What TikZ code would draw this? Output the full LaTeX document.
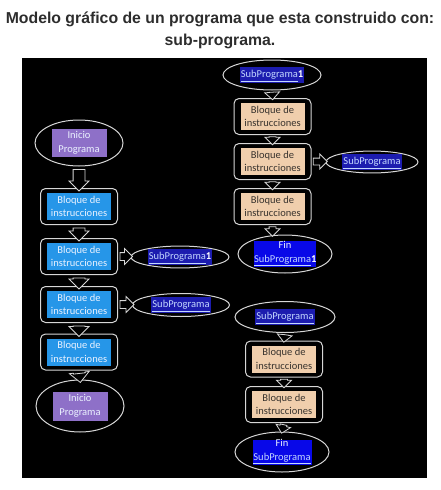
\documentclass[tikz,border=0pt]{standalone}
\usepackage{fontspec}
\setmainfont{Carlito}
\newfontfamily\titlefont{Liberation Sans}
\usetikzlibrary{shapes.geometric,shapes.arrows,calc}
\definecolor{linea}{RGB}{215,215,215}
\definecolor{azul}{RGB}{38,150,232}
\definecolor{morado}{RGB}{142,112,200}
\definecolor{crema}{RGB}{240,206,172}
\definecolor{azulfin}{RGB}{8,8,232}
\definecolor{resalte}{RGB}{28,28,175}
\definecolor{enlace}{RGB}{195,215,255}
\definecolor{claro}{RGB}{235,242,255}
\definecolor{oscuro}{RGB}{55,50,45}
\definecolor{tinta}{RGB}{45,45,45}
\setlength{\fboxsep}{0pt}
% caja de color con texto centrado: color, ancho, alto, texto
\newcommand{\rotulo}[4]{\colorbox{#1}{\parbox[c][#3][c]{#2}{\centering #4}}}
\newcommand{\instr}[2]{\rotulo{#1}{64pt}{27pt}{\color{#2}Bloque de\\instrucciones}}
\newcommand{\subprog}[1]{{\setlength{\fboxsep}{1pt}\colorbox{resalte}{\strut\color{enlace}\underline{SubPrograma}\textbf{\color{white}#1}}}}
\tikzset{encabezado/.style={font=\titlefont\bfseries\fontsize{15.8}{18}\selectfont, text=tinta}}
\begin{document}
\begin{tikzpicture}[x=1pt, y=-1pt,
    every node/.style={font=\fontsize{10.5}{13.5}\selectfont},
    bloque/.style={draw=linea, line width=1pt, fill=black, rounded corners=5pt, inner xsep=6.5pt, inner ysep=4.5pt},
    ovalo/.style={ellipse, draw=linea, line width=1pt, fill=black, inner sep=0pt},
    % ancho del cuerpo = #1, la punta sobresale 4pt por lado
    hueca/.style={single arrow, draw=linea, fill=black, line width=0.8pt, inner sep=0pt,
                  text height=#1, text depth=0pt, minimum width=0pt, single arrow head extend=4pt},
    flecha/.style={to path={let \p1=($(\tikztotarget)-(\tikztostart)$), \n1={veclen(\x1,\y1)} in
        (\tikztostart) -- (\tikztotarget) node[midway, sloped, allow upside down, hueca=#1, minimum height=\n1] {}}},
    flecha/.default=11pt]
    \useasboundingbox (0,0) rectangle (441,490);
    \fill[white] (0,0) rectangle (441,490);
    \node[encabezado, anchor=base] (tit1) at (220,23) {Modelo gráfico de un programa que esta construido con:};
    \node[encabezado, anchor=base] (tit2) at (220,45) {sub-programa.};
    \fill[black] (22,58) rectangle (427,478);

    % programa principal
    \node[ovalo, minimum width=88pt, minimum height=46pt] (ini) at (79,143) {\rotulo{morado}{55pt}{28pt}{\color{claro}Inicio\\Programa}};
    \node[bloque] (b1) at (79,206.5) {\instr{azul}{claro}};
    \node[bloque] (b2) at (79,256.5) {\instr{azul}{claro}};
    \node[bloque] (b3) at (79,304.5) {\instr{azul}{claro}};
    \node[bloque] (b4) at (79,352) {\instr{azul}{claro}};
    \node[ovalo, minimum width=88pt, minimum height=52pt] (fin) at (80,406) {\rotulo{morado}{55pt}{29pt}{\color{claro}Inicio\\Programa}};
    \node[ovalo, minimum width=98pt, minimum height=21pt] (s1) at (180,257) {\subprog{1}};
    \node[ovalo, minimum width=97pt, minimum height=23pt] (s2) at (181,305) {\subprog{}};
    \path (ini.south) to[flecha] (b1.north);
    \path (b1.south) to[flecha] (b2.north);
    \path (b2.south) to[flecha] (b3.north);
    \path (b3.south) to[flecha] (b4.north);
    \path (b4.south) to[flecha] (fin.north);
    \path (b2.east) to[flecha=7pt] (b2.east -| s1.west);
    \path (b3.east) to[flecha=7pt] (b3.east -| s2.west);

    % SubPrograma1
    \node[ovalo, minimum width=98pt, minimum height=30pt] (p0) at (272,75) {\subprog{1}};
    \node[bloque] (c1) at (272.5,116.5) {\instr{crema}{oscuro}};
    \node[bloque] (c2) at (272.5,161.5) {\instr{crema}{oscuro}};
    \node[bloque] (c3) at (272.5,206.5) {\instr{crema}{oscuro}};
    \node[ovalo, minimum width=94pt, minimum height=38pt] (p1) at (285,254) {\rotulo{azulfin}{62pt}{26pt}{\color{claro}Fin\\\color{enlace}\underline{SubPrograma}\textbf{\color{white}1}}};
    \node[ovalo, minimum width=92pt, minimum height=21pt] (s3) at (372,162) {\subprog{}};
    \path (p0.south) to[flecha=6pt] (c1.north);
    \path (c1.south) to[flecha=6pt] (c2.north);
    \path (c2.south) to[flecha=6pt] (c3.north);
    \path (c3.south) to[flecha=6pt] (c3.south |- p1.north);
    \path (c2.east) to[flecha=6pt] (c2.east -| s3.west);

    % SubPrograma
    \node[ovalo, minimum width=100pt, minimum height=31pt] (q0) at (285,317) {\subprog{}};
    \node[bloque] (d1) at (284,359) {\instr{crema}{oscuro}};
    \node[bloque] (d2) at (284,404.5) {\instr{crema}{oscuro}};
    \node[ovalo, minimum width=94pt, minimum height=40pt] (q1) at (282,452) {\rotulo{azulfin}{59pt}{25pt}{\color{claro}Fin\\\color{enlace}\underline{SubPrograma}}};
    \path (q0.south) to[flecha=6pt] (d1.north);
    \path (d1.south) to[flecha=6pt] (d2.north);
    \path (d2.south) to[flecha=6pt] (q1.north);
\end{tikzpicture}
\end{document}
